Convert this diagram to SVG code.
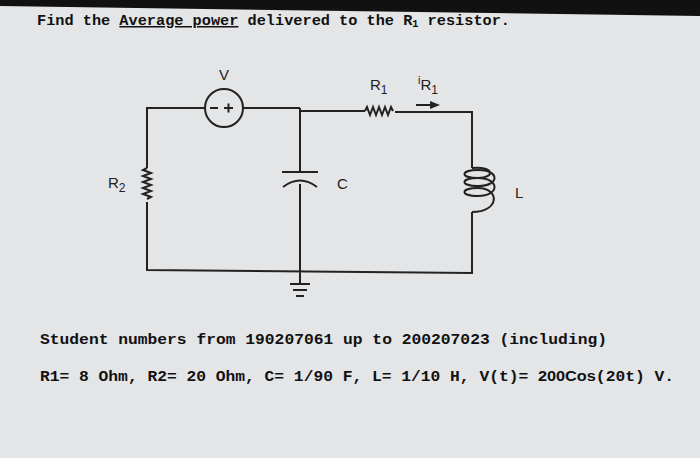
<svg xmlns="http://www.w3.org/2000/svg" width="700" height="458" viewBox="0 0 700 458">
<style>
.w{fill:none;stroke:#222;stroke-width:2}
.m{font-family:"Liberation Mono",monospace;font-weight:bold;font-size:15px;fill:#111}
.s{font-family:"Liberation Sans",sans-serif;font-size:15px;fill:#222}
</style>
<rect width="700" height="458" fill="#e4e5e7"/>
<polygon points="0,0 700,0 700,16 0,6" fill="#111"/>
<text class="m" x="37" y="25" textLength="473" lengthAdjust="spacingAndGlyphs">Find the <tspan text-decoration="underline">Average power</tspan> delivered to the R<tspan font-size="10" dy="2">1</tspan><tspan dy="-2"> resistor.</tspan></text>
<g id="connectors">
<path class="w" d="M205,108 H147 V168 M147,202 V270 L472,273 V212 M472,168 V112 H395 M365,111 H300 M243,108 H300 M300,108 V172 M300,184 V284"/>
<path class="w" d="M416,105 H434"/>
<polygon points="440,105 430,101 430,109" fill="#222"/>
</g>
<g id="V"><circle class="w" cx="224" cy="108" r="19"/><path class="w" d="M210,108 h8 M224,108 h9 M228.5,103.5 v9"/><text class="s" x="219" y="80">V</text></g>
<g id="R1"><path class="w" stroke-width="1.6" d="M365,111 l2,-4 l3,8 l3,-8 l3,8 l3,-8 l3,8 l3,-8 l3,8 l3,-8 l2,4"/><text class="s" x="370" y="90">R<tspan font-size="12" dy="4">1</tspan></text><text class="s" x="418" y="90"><tspan font-size="11" dy="-6">i</tspan><tspan dy="6">R</tspan><tspan font-size="12" dy="4">1</tspan></text></g>
<g id="R2"><path class="w" stroke-width="1.6" d="M147,168 l-4,2 l8,3 l-8,3 l8,3 l-8,3 l8,3 l-8,3 l8,3 l-8,3 l8,3 l-4,2"/><text class="s" x="108" y="188">R<tspan font-size="12" dy="4">2</tspan></text></g>
<g id="C"><path class="w" d="M282,172 H318 M283,187 Q300,174 317,187"/><text class="s" x="337" y="189">C</text></g>
<g id="L"><path class="w" d="M472,168 C495,166 495,178 478,178 C460,178 460,170 478,170 C500,170 500,186 478,186 C460,186 460,178 478,178 C500,178 500,196 478,196 C460,196 460,188 478,188 C500,188 500,212 472,212"/><text class="s" x="515" y="198">L</text></g>
<g id="ground"><path class="w" d="M290,284 H310 M293,290 H307 M296,296 H304"/></g>
<text class="m" x="40" y="344" font-weight="normal" textLength="567" lengthAdjust="spacingAndGlyphs">Student numbers from 190207061 up to 200207023 (including)</text>
<text class="m" x="40" y="381" textLength="634" lengthAdjust="spacingAndGlyphs">R1= 8 Ohm, R2= 20 Ohm, C= 1/90 F, L= 1/10 H, V(t)= <tspan font-family="Liberation Sans">200Cos</tspan>(20t) V.</text>
</svg>
